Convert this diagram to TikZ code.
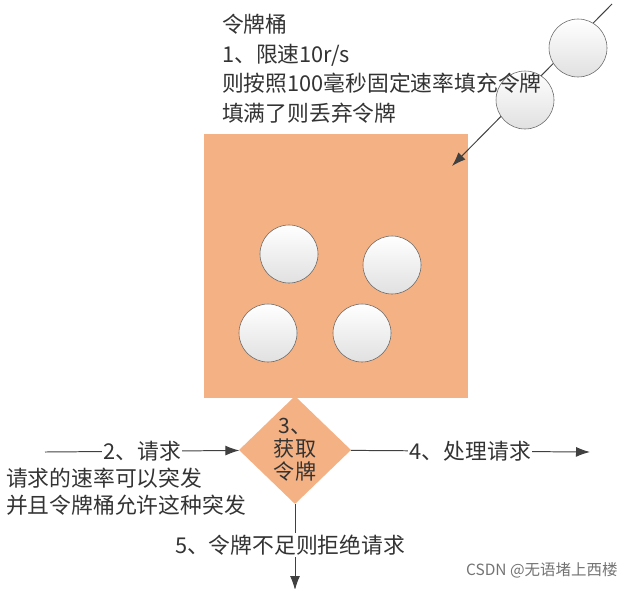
\documentclass[tikz,border=0pt]{standalone}
\usepackage{fontspec}
\newfontfamily\cjk{Noto Sans CJK SC}
\usetikzlibrary{shapes.geometric,arrows.meta}
\definecolor{bucket}{HTML}{F4B183}
\begin{document}
\begin{tikzpicture}[x=0.5mm,y=-0.5mm,
    every node/.style={font=\cjk\fontsize{31}{42}\selectfont,text=black!80},
    token/.style={circle,draw=black!60,line width=0.8pt,minimum size=29mm,
      inner sep=0pt,top color=white,bottom color=black!12},
    flow/.style={draw=black!75,line width=1.4pt,-{Latex[length=7mm,width=5mm]}}]

    \useasboundingbox (0,0) rectangle (626,588);

    % Bucket and tokens
    \node[fill=bucket,minimum width=132mm,minimum height=132mm,inner sep=0pt]
      (bucket) at (336,266) {};
    \node[token] (t1) at (289,254) {};
    \node[token] (t2) at (392,265) {};
    \node[token] (t3) at (268,333) {};
    \node[token] (t4) at (362,333) {};

    % Incoming tokens
    \coordinate (src) at (612,4);
    \coordinate (drop) at (452,166);
    \draw[flow] (src) -- (drop);
    \node[token] (n1) at (578,48) {};
    \node[token] (n2) at (525,100) {};

    % Description
    \node[anchor=north west,align=left,inner sep=0pt] (desc) at (222,14)
      {令牌桶\\1、限速10r/s\\则按照100毫秒固定速率填充令牌\\填满了则丢弃令牌};

    % Decision
    \node[diamond,fill=bucket,minimum width=56mm,minimum height=54mm,
      inner sep=0pt,align=center,font=\cjk\fontsize{30}{33}\selectfont]
      (get) at (295,450) {3、\\获取\\令牌};

    % Request flow
    \coordinate (in) at (45,452);
    \coordinate (out) at (590,452);
    \coordinate (rej) at (295,590);
    \draw[flow] (in) -- node[fill=white,inner sep=2pt] {2、请求} (get);
    \draw[flow] (get) -- node[fill=white,inner sep=2pt] {4、处理请求} (out);
    \draw[flow] (get) -- (rej);
    \node[fill=white,inner sep=2pt] (reject) at (290,545) {5、令牌不足则拒绝请求};

    \node[anchor=north west,align=left,inner sep=0pt,
      font=\cjk\fontsize{31}{38}\selectfont] (burst) at (6,468)
      {请求的速率可以突发\\并且令牌桶允许这种突发};

    \node[anchor=east,text=black!55,font=\cjk\fontsize{22}{26}\selectfont]
      (mark) at (620,570) {CSDN @无语堵上西楼};
  \end{tikzpicture}
\end{document}
